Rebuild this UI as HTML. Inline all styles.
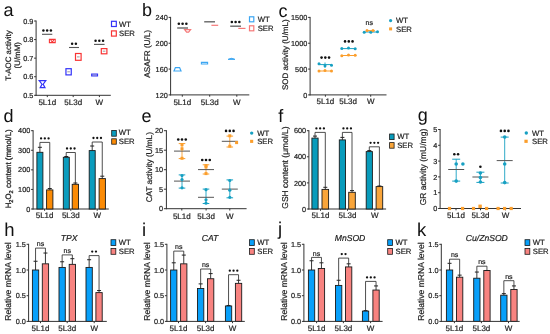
<!DOCTYPE html>
<html><head><meta charset="utf-8"><style>
html,body{margin:0;padding:0;background:#fff;width:550px;height:334px;overflow:hidden}
svg{display:block;font-family:"Liberation Sans", sans-serif;will-change:transform;text-rendering:geometricPrecision}
</style></head><body>
<svg width="550" height="334" viewBox="0 0 550 334">
<rect width="550" height="334" fill="#fff"/>
<text transform="translate(3.60,16.00)" text-anchor="start" fill="#111" style="font-size:18.00px;" >a</text>
<text transform="translate(141.90,16.20)" text-anchor="start" fill="#111" style="font-size:18.00px;" >b</text>
<text transform="translate(278.40,16.60)" text-anchor="start" fill="#111" style="font-size:18.00px;" >c</text>
<text transform="translate(3.60,121.70)" text-anchor="start" fill="#111" style="font-size:18.00px;" >d</text>
<text transform="translate(141.60,121.70)" text-anchor="start" fill="#111" style="font-size:18.00px;" >e</text>
<text transform="translate(278.20,121.70)" text-anchor="start" fill="#111" style="font-size:18.00px;" >f</text>
<text transform="translate(417.70,120.70)" text-anchor="start" fill="#111" style="font-size:18.00px;" >g</text>
<text transform="translate(4.20,235.60)" text-anchor="start" fill="#111" style="font-size:18.50px;" >h</text>
<text transform="translate(142.00,235.60)" text-anchor="start" fill="#111" style="font-size:18.50px;" >i</text>
<text transform="translate(277.90,235.30)" text-anchor="start" fill="#111" style="font-size:18.50px;" >j</text>
<text transform="translate(417.00,235.60)" text-anchor="start" fill="#111" style="font-size:18.50px;" >k</text>
<line x1="36.10" y1="20.50" x2="36.10" y2="95.80" stroke="#333" stroke-width="1"/>
<line x1="34.10" y1="21.00" x2="36.10" y2="21.00" stroke="#333" stroke-width="1"/>
<text transform="translate(33.30,23.60)" text-anchor="end" fill="#222" stroke="#222" stroke-width="0.2" style="font-size:7.30px;" >0.9</text>
<line x1="34.10" y1="39.57" x2="36.10" y2="39.57" stroke="#333" stroke-width="1"/>
<text transform="translate(33.30,42.17)" text-anchor="end" fill="#222" stroke="#222" stroke-width="0.2" style="font-size:7.30px;" >0.8</text>
<line x1="34.10" y1="58.15" x2="36.10" y2="58.15" stroke="#333" stroke-width="1"/>
<text transform="translate(33.30,60.75)" text-anchor="end" fill="#222" stroke="#222" stroke-width="0.2" style="font-size:7.30px;" >0.7</text>
<line x1="34.10" y1="76.72" x2="36.10" y2="76.72" stroke="#333" stroke-width="1"/>
<text transform="translate(33.30,79.32)" text-anchor="end" fill="#222" stroke="#222" stroke-width="0.2" style="font-size:7.30px;" >0.6</text>
<line x1="34.10" y1="95.30" x2="36.10" y2="95.30" stroke="#333" stroke-width="1"/>
<text transform="translate(33.30,97.90)" text-anchor="end" fill="#222" stroke="#222" stroke-width="0.2" style="font-size:7.30px;" >0.5</text>
<line x1="35.60" y1="95.30" x2="110.80" y2="95.30" stroke="#333" stroke-width="1"/>
<line x1="47.30" y1="95.30" x2="47.30" y2="97.10" stroke="#333" stroke-width="1"/>
<text transform="translate(47.30,105.30)" text-anchor="middle" fill="#222" stroke="#222" stroke-width="0.2" style="font-size:8.00px;" >5L1d</text>
<line x1="73.20" y1="95.30" x2="73.20" y2="97.10" stroke="#333" stroke-width="1"/>
<text transform="translate(73.20,105.30)" text-anchor="middle" fill="#222" stroke="#222" stroke-width="0.2" style="font-size:8.00px;" >5L3d</text>
<line x1="99.40" y1="95.30" x2="99.40" y2="97.10" stroke="#333" stroke-width="1"/>
<text transform="translate(99.40,105.30)" text-anchor="middle" fill="#222" stroke="#222" stroke-width="0.2" style="font-size:8.00px;" >W</text>
<text transform="translate(10.90,55.50) rotate(-90)" text-anchor="middle" fill="#222" stroke="#222" stroke-width="0.2" style="font-size:7.90px;" >T-AOC activity</text>
<text transform="translate(20.10,55.30) rotate(-90)" text-anchor="middle" fill="#222" stroke="#222" stroke-width="0.2" style="font-size:7.90px;" >(U/mM)</text>
<path d="M39.2,80.6 L45.8,80.6 L43.2,84.2 L45.0,87.6 L40.2,87.6 L42.0,84.2 Z" fill="none" stroke="#3232f8" stroke-width="1.2"/>
<rect x="65.95" y="68.70" width="5.30" height="6.20" fill="none" stroke="#3232f8" stroke-width="1.2"/>
<line x1="67.30" y1="71.80" x2="69.90" y2="71.80" stroke="#555" stroke-width="0.6"/>
<rect x="91.70" y="74.10" width="5.80" height="1.80" fill="none" stroke="#3232f8" stroke-width="1.2"/>
<line x1="92.30" y1="75.00" x2="96.90" y2="75.00" stroke="#aab" stroke-width="0.6"/>
<path d="M49.4,39.4 L55.2,39.4 L55.2,42.6 L49.4,42.6 Z M50.8,40.2 L52.3,42.0 L53.8,40.2" fill="none" stroke="#f83434" stroke-width="1.1"/>
<rect x="75.50" y="53.50" width="5.60" height="6.80" fill="none" stroke="#f83434" stroke-width="1.2"/>
<line x1="77.00" y1="56.90" x2="79.60" y2="56.90" stroke="#555" stroke-width="0.6"/>
<rect x="101.30" y="48.60" width="5.60" height="5.20" fill="none" stroke="#f83434" stroke-width="1.2"/>
<line x1="102.80" y1="51.20" x2="105.40" y2="51.20" stroke="#555" stroke-width="0.6"/>
<line x1="42.00" y1="34.30" x2="52.30" y2="34.30" stroke="#555" stroke-width="1.1"/>
<circle cx="43.40" cy="30.60" r="1.25" fill="#111"/>
<circle cx="47.15" cy="30.60" r="1.25" fill="#111"/>
<circle cx="50.90" cy="30.60" r="1.25" fill="#111"/>
<line x1="69.00" y1="47.50" x2="79.00" y2="47.50" stroke="#555" stroke-width="1.1"/>
<circle cx="72.12" cy="43.80" r="1.25" fill="#111"/>
<circle cx="75.88" cy="43.80" r="1.25" fill="#111"/>
<line x1="94.00" y1="44.40" x2="104.60" y2="44.40" stroke="#555" stroke-width="1.1"/>
<circle cx="95.55" cy="40.70" r="1.25" fill="#111"/>
<circle cx="99.30" cy="40.70" r="1.25" fill="#111"/>
<circle cx="103.05" cy="40.70" r="1.25" fill="#111"/>
<rect x="111.50" y="21.30" width="4.80" height="5.20" fill="none" stroke="#3232f8" stroke-width="1.2"/>
<text transform="translate(119.00,26.60)" text-anchor="start" fill="#222" stroke="#222" stroke-width="0.2" style="font-size:7.70px;" >WT</text>
<rect x="111.50" y="30.90" width="4.80" height="5.20" fill="none" stroke="#f83434" stroke-width="1.2"/>
<text transform="translate(119.00,36.30)" text-anchor="start" fill="#222" stroke="#222" stroke-width="0.2" style="font-size:7.70px;" >SER</text>
<line x1="170.60" y1="16.90" x2="170.60" y2="95.40" stroke="#333" stroke-width="1"/>
<line x1="168.60" y1="17.40" x2="170.60" y2="17.40" stroke="#333" stroke-width="1"/>
<text transform="translate(167.80,20.00)" text-anchor="end" fill="#222" stroke="#222" stroke-width="0.2" style="font-size:7.30px;" >240</text>
<line x1="168.60" y1="43.23" x2="170.60" y2="43.23" stroke="#333" stroke-width="1"/>
<text transform="translate(167.80,45.83)" text-anchor="end" fill="#222" stroke="#222" stroke-width="0.2" style="font-size:7.30px;" >200</text>
<line x1="168.60" y1="69.07" x2="170.60" y2="69.07" stroke="#333" stroke-width="1"/>
<text transform="translate(167.80,71.67)" text-anchor="end" fill="#222" stroke="#222" stroke-width="0.2" style="font-size:7.30px;" >160</text>
<line x1="168.60" y1="94.90" x2="170.60" y2="94.90" stroke="#333" stroke-width="1"/>
<text transform="translate(167.80,97.50)" text-anchor="end" fill="#222" stroke="#222" stroke-width="0.2" style="font-size:7.30px;" >120</text>
<line x1="170.10" y1="94.90" x2="249.30" y2="94.90" stroke="#333" stroke-width="1"/>
<line x1="182.30" y1="94.90" x2="182.30" y2="96.70" stroke="#333" stroke-width="1"/>
<text transform="translate(182.30,104.50)" text-anchor="middle" fill="#222" stroke="#222" stroke-width="0.2" style="font-size:8.00px;" >5L1d</text>
<line x1="209.70" y1="94.90" x2="209.70" y2="96.70" stroke="#333" stroke-width="1"/>
<text transform="translate(209.70,104.50)" text-anchor="middle" fill="#222" stroke="#222" stroke-width="0.2" style="font-size:8.00px;" >5L3d</text>
<line x1="236.80" y1="94.90" x2="236.80" y2="96.70" stroke="#333" stroke-width="1"/>
<text transform="translate(236.80,104.50)" text-anchor="middle" fill="#222" stroke="#222" stroke-width="0.2" style="font-size:8.00px;" >W</text>
<text transform="translate(150.00,53.80) rotate(-90)" text-anchor="middle" fill="#222" stroke="#222" stroke-width="0.2" style="font-size:8.20px;" >ASAFR (U/L)</text>
<path d="M175.4,67.6 L179.6,67.6 L181.0,71.0 L174.0,71.0 Z" fill="none" stroke="#3ca6f2" stroke-width="1.2"/>
<path d="M201.4,62.4 L207.6,62.4 L207.6,64.0 L201.4,64.0 Z" fill="none" stroke="#3ca6f2" stroke-width="1.1"/>
<path d="M228.0,59.4 Q231.5,57.2 235.0,59.4 Z" fill="#3ca6f2" stroke="#3ca6f2" stroke-width="0.9"/>
<path d="M184.6,29.6 L190.6,29.6 L188.6,32.2 L186.6,32.2 Z" fill="none" stroke="#f57878" stroke-width="1.2"/>
<line x1="211.40" y1="25.30" x2="218.20" y2="25.30" stroke="#f57878" stroke-width="1.2"/>
<line x1="238.30" y1="28.40" x2="245.50" y2="28.40" stroke="#f57878" stroke-width="1.2"/>
<line x1="177.20" y1="28.00" x2="188.00" y2="28.00" stroke="#666" stroke-width="1.4"/>
<circle cx="178.85" cy="23.80" r="1.3" fill="#111"/>
<circle cx="182.60" cy="23.80" r="1.3" fill="#111"/>
<circle cx="186.35" cy="23.80" r="1.3" fill="#111"/>
<line x1="204.20" y1="21.80" x2="215.00" y2="21.80" stroke="#666" stroke-width="1.4"/>
<line x1="230.20" y1="26.20" x2="241.00" y2="26.20" stroke="#666" stroke-width="1.4"/>
<circle cx="231.85" cy="22.00" r="1.3" fill="#111"/>
<circle cx="235.60" cy="22.00" r="1.3" fill="#111"/>
<circle cx="239.35" cy="22.00" r="1.3" fill="#111"/>
<rect x="249.50" y="16.80" width="4.30" height="5.00" fill="none" stroke="#3ca6f2" stroke-width="1.2"/>
<text transform="translate(257.70,21.90)" text-anchor="start" fill="#222" stroke="#222" stroke-width="0.2" style="font-size:7.70px;" >WT</text>
<rect x="249.50" y="25.80" width="4.30" height="5.00" fill="none" stroke="#f57878" stroke-width="1.2"/>
<text transform="translate(257.70,31.10)" text-anchor="start" fill="#222" stroke="#222" stroke-width="0.2" style="font-size:7.70px;" >SER</text>
<line x1="310.10" y1="16.90" x2="310.10" y2="95.40" stroke="#333" stroke-width="1"/>
<line x1="308.10" y1="17.40" x2="310.10" y2="17.40" stroke="#333" stroke-width="1"/>
<text transform="translate(307.30,20.00)" text-anchor="end" fill="#222" stroke="#222" stroke-width="0.2" style="font-size:7.30px;" >1500</text>
<line x1="308.10" y1="43.23" x2="310.10" y2="43.23" stroke="#333" stroke-width="1"/>
<text transform="translate(307.30,45.83)" text-anchor="end" fill="#222" stroke="#222" stroke-width="0.2" style="font-size:7.30px;" >1000</text>
<line x1="308.10" y1="69.07" x2="310.10" y2="69.07" stroke="#333" stroke-width="1"/>
<text transform="translate(307.30,71.67)" text-anchor="end" fill="#222" stroke="#222" stroke-width="0.2" style="font-size:7.30px;" >500</text>
<line x1="308.10" y1="94.90" x2="310.10" y2="94.90" stroke="#333" stroke-width="1"/>
<text transform="translate(307.30,97.50)" text-anchor="end" fill="#222" stroke="#222" stroke-width="0.2" style="font-size:7.30px;" >0</text>
<line x1="309.60" y1="94.90" x2="386.50" y2="94.90" stroke="#333" stroke-width="1"/>
<line x1="325.40" y1="94.90" x2="325.40" y2="96.70" stroke="#333" stroke-width="1"/>
<text transform="translate(325.40,104.30)" text-anchor="middle" fill="#222" stroke="#222" stroke-width="0.2" style="font-size:8.00px;" >5L1d</text>
<line x1="348.10" y1="94.90" x2="348.10" y2="96.70" stroke="#333" stroke-width="1"/>
<text transform="translate(348.10,104.30)" text-anchor="middle" fill="#222" stroke="#222" stroke-width="0.2" style="font-size:8.00px;" >5L3d</text>
<line x1="370.70" y1="94.90" x2="370.70" y2="96.70" stroke="#333" stroke-width="1"/>
<text transform="translate(370.70,104.30)" text-anchor="middle" fill="#222" stroke="#222" stroke-width="0.2" style="font-size:8.00px;" >W</text>
<text transform="translate(287.80,54.70) rotate(-90)" text-anchor="middle" fill="#222" stroke="#222" stroke-width="0.2" style="font-size:8.00px;" >SOD activity (U/mL)</text>
<line x1="318.50" y1="71.00" x2="331.50" y2="71.00" stroke="#fb9e2c" stroke-width="1.0"/>
<circle cx="319.00" cy="71.00" r="1.5" fill="#fb9e2c"/>
<circle cx="325.00" cy="70.50" r="1.5" fill="#fb9e2c"/>
<circle cx="331.50" cy="71.00" r="1.5" fill="#fb9e2c"/>
<line x1="318.50" y1="64.60" x2="331.50" y2="64.60" stroke="#17a0c2" stroke-width="1.0"/>
<circle cx="319.00" cy="63.80" r="1.5" fill="#17a0c2"/>
<circle cx="325.00" cy="65.80" r="1.5" fill="#17a0c2"/>
<circle cx="331.50" cy="65.20" r="1.5" fill="#17a0c2"/>
<line x1="325.00" y1="62.50" x2="325.00" y2="68.00" stroke="#17a0c2" stroke-width="0.9"/>
<line x1="342.00" y1="55.50" x2="355.00" y2="55.50" stroke="#fb9e2c" stroke-width="1.0"/>
<circle cx="341.80" cy="55.80" r="1.5" fill="#fb9e2c"/>
<circle cx="348.50" cy="55.00" r="1.5" fill="#fb9e2c"/>
<circle cx="355.20" cy="55.30" r="1.5" fill="#fb9e2c"/>
<line x1="342.00" y1="48.60" x2="355.00" y2="48.60" stroke="#17a0c2" stroke-width="1.0"/>
<circle cx="341.80" cy="48.60" r="1.5" fill="#17a0c2"/>
<circle cx="348.50" cy="48.00" r="1.5" fill="#17a0c2"/>
<circle cx="355.20" cy="48.80" r="1.5" fill="#17a0c2"/>
<line x1="364.30" y1="32.00" x2="377.30" y2="32.00" stroke="#17a0c2" stroke-width="1.0"/>
<circle cx="364.20" cy="32.20" r="1.5" fill="#17a0c2"/>
<circle cx="370.80" cy="32.30" r="1.5" fill="#17a0c2"/>
<circle cx="377.50" cy="31.80" r="1.5" fill="#17a0c2"/>
<line x1="366.80" y1="30.60" x2="374.80" y2="30.60" stroke="#fb9e2c" stroke-width="1.0"/>
<circle cx="367.00" cy="30.40" r="1.5" fill="#fb9e2c"/>
<circle cx="373.00" cy="30.40" r="1.5" fill="#fb9e2c"/>
<circle cx="321.55" cy="57.60" r="1.3" fill="#111"/>
<circle cx="325.30" cy="57.60" r="1.3" fill="#111"/>
<circle cx="329.05" cy="57.60" r="1.3" fill="#111"/>
<circle cx="345.05" cy="41.40" r="1.3" fill="#111"/>
<circle cx="348.80" cy="41.40" r="1.3" fill="#111"/>
<circle cx="352.55" cy="41.40" r="1.3" fill="#111"/>
<text transform="translate(369.30,24.70)" text-anchor="middle" fill="#222" stroke="#222" stroke-width="0.2" style="font-size:7.00px;" >ns</text>
<circle cx="390.60" cy="20.60" r="1.6" fill="#17a0c2"/>
<text transform="translate(396.00,22.90)" text-anchor="start" fill="#222" stroke="#222" stroke-width="0.2" style="font-size:7.70px;" >WT</text>
<rect x="389.10" y="27.40" width="3.00" height="3.00" fill="#fb9e2c" stroke="none" stroke-width="0.8"/>
<text transform="translate(396.00,31.60)" text-anchor="start" fill="#222" stroke="#222" stroke-width="0.2" style="font-size:7.70px;" >SER</text>
<line x1="33.10" y1="130.20" x2="33.10" y2="209.50" stroke="#333" stroke-width="1"/>
<line x1="31.10" y1="130.70" x2="33.10" y2="130.70" stroke="#333" stroke-width="1"/>
<text transform="translate(30.30,133.30)" text-anchor="end" fill="#222" stroke="#222" stroke-width="0.2" style="font-size:7.30px;" >400</text>
<line x1="31.10" y1="150.27" x2="33.10" y2="150.27" stroke="#333" stroke-width="1"/>
<text transform="translate(30.30,152.87)" text-anchor="end" fill="#222" stroke="#222" stroke-width="0.2" style="font-size:7.30px;" >300</text>
<line x1="31.10" y1="169.85" x2="33.10" y2="169.85" stroke="#333" stroke-width="1"/>
<text transform="translate(30.30,172.45)" text-anchor="end" fill="#222" stroke="#222" stroke-width="0.2" style="font-size:7.30px;" >200</text>
<line x1="31.10" y1="189.43" x2="33.10" y2="189.43" stroke="#333" stroke-width="1"/>
<text transform="translate(30.30,192.03)" text-anchor="end" fill="#222" stroke="#222" stroke-width="0.2" style="font-size:7.30px;" >100</text>
<line x1="31.10" y1="209.00" x2="33.10" y2="209.00" stroke="#333" stroke-width="1"/>
<text transform="translate(30.30,211.60)" text-anchor="end" fill="#222" stroke="#222" stroke-width="0.2" style="font-size:7.30px;" >0</text>
<line x1="32.60" y1="209.00" x2="108.80" y2="209.00" stroke="#333" stroke-width="1"/>
<line x1="44.60" y1="209.00" x2="44.60" y2="210.80" stroke="#333" stroke-width="1"/>
<text transform="translate(44.60,218.20)" text-anchor="middle" fill="#222" stroke="#222" stroke-width="0.2" style="font-size:8.00px;" >5L1d</text>
<line x1="70.80" y1="209.00" x2="70.80" y2="210.80" stroke="#333" stroke-width="1"/>
<text transform="translate(70.80,218.20)" text-anchor="middle" fill="#222" stroke="#222" stroke-width="0.2" style="font-size:8.00px;" >5L3d</text>
<line x1="97.20" y1="209.00" x2="97.20" y2="210.80" stroke="#333" stroke-width="1"/>
<text transform="translate(97.20,218.20)" text-anchor="middle" fill="#222" stroke="#222" stroke-width="0.2" style="font-size:8.00px;" >W</text>
<text transform="translate(11.25,168.8) rotate(-90)" text-anchor="middle" fill="#222" stroke="#222" stroke-width="0.3" style="font-size:7.85px">H<tspan dy="1.8" style="font-size:5.6px">2</tspan><tspan dy="-1.8">O</tspan><tspan dy="1.8" style="font-size:5.6px">2</tspan><tspan dy="-1.8"> content (mmol/L)</tspan></text>
<line x1="39.90" y1="147.30" x2="39.90" y2="152.30" stroke="#222" stroke-width="0.9"/>
<line x1="37.90" y1="147.30" x2="41.90" y2="147.30" stroke="#222" stroke-width="1.0"/>
<rect x="36.90" y="152.30" width="6.00" height="56.70" fill="#0b9cbd" stroke="#1a1a1a" stroke-width="0.9"/>
<line x1="49.75" y1="188.50" x2="49.75" y2="189.90" stroke="#222" stroke-width="0.9"/>
<line x1="47.75" y1="188.50" x2="51.75" y2="188.50" stroke="#222" stroke-width="1.0"/>
<rect x="46.60" y="189.90" width="6.30" height="19.10" fill="#fb8b06" stroke="#1a1a1a" stroke-width="0.9"/>
<line x1="66.30" y1="156.50" x2="66.30" y2="157.30" stroke="#222" stroke-width="0.9"/>
<line x1="64.30" y1="156.50" x2="68.30" y2="156.50" stroke="#222" stroke-width="1.0"/>
<rect x="63.30" y="157.30" width="6.00" height="51.70" fill="#0b9cbd" stroke="#1a1a1a" stroke-width="0.9"/>
<line x1="75.35" y1="183.00" x2="75.35" y2="184.30" stroke="#222" stroke-width="0.9"/>
<line x1="73.35" y1="183.00" x2="77.35" y2="183.00" stroke="#222" stroke-width="1.0"/>
<rect x="72.20" y="184.30" width="6.30" height="24.70" fill="#fb8b06" stroke="#1a1a1a" stroke-width="0.9"/>
<line x1="92.20" y1="146.00" x2="92.20" y2="150.60" stroke="#222" stroke-width="0.9"/>
<line x1="90.20" y1="146.00" x2="94.20" y2="146.00" stroke="#222" stroke-width="1.0"/>
<rect x="89.20" y="150.60" width="6.00" height="58.40" fill="#0b9cbd" stroke="#1a1a1a" stroke-width="0.9"/>
<line x1="102.25" y1="176.20" x2="102.25" y2="178.60" stroke="#222" stroke-width="0.9"/>
<line x1="100.25" y1="176.20" x2="104.25" y2="176.20" stroke="#222" stroke-width="1.0"/>
<rect x="99.10" y="178.60" width="6.30" height="30.40" fill="#fb8b06" stroke="#1a1a1a" stroke-width="0.9"/>
<polyline points="39.90,147.30 39.90,142.40 49.75,142.40 49.75,188.50" fill="none" stroke="#222" stroke-width="0.8"/>
<circle cx="41.08" cy="138.40" r="1.15" fill="#111"/>
<circle cx="44.83" cy="138.40" r="1.15" fill="#111"/>
<circle cx="48.58" cy="138.40" r="1.15" fill="#111"/>
<polyline points="66.20,156.50 66.20,152.50 75.35,152.50 75.35,183.00" fill="none" stroke="#222" stroke-width="0.8"/>
<circle cx="67.03" cy="148.50" r="1.15" fill="#111"/>
<circle cx="70.78" cy="148.50" r="1.15" fill="#111"/>
<circle cx="74.53" cy="148.50" r="1.15" fill="#111"/>
<polyline points="92.20,146.00 92.20,142.00 102.25,142.00 102.25,176.20" fill="none" stroke="#222" stroke-width="0.8"/>
<circle cx="93.47" cy="138.00" r="1.15" fill="#111"/>
<circle cx="97.22" cy="138.00" r="1.15" fill="#111"/>
<circle cx="100.97" cy="138.00" r="1.15" fill="#111"/>
<rect x="111.70" y="130.40" width="4.60" height="5.80" fill="#0b9cbd" stroke="#1a1a1a" stroke-width="0.8"/>
<text transform="translate(118.80,135.30)" text-anchor="start" fill="#222" stroke="#222" stroke-width="0.2" style="font-size:7.70px;" >WT</text>
<rect x="111.70" y="138.80" width="4.60" height="5.40" fill="#fb8b06" stroke="#1a1a1a" stroke-width="0.8"/>
<text transform="translate(118.80,143.70)" text-anchor="start" fill="#222" stroke="#222" stroke-width="0.2" style="font-size:7.70px;" >SER</text>
<line x1="166.40" y1="130.20" x2="166.40" y2="209.20" stroke="#333" stroke-width="1"/>
<line x1="163.90" y1="130.70" x2="166.40" y2="130.70" stroke="#333" stroke-width="1"/>
<text transform="translate(163.10,133.30)" text-anchor="end" fill="#222" stroke="#222" stroke-width="0.2" style="font-size:7.30px;" >20</text>
<line x1="163.90" y1="150.20" x2="166.40" y2="150.20" stroke="#333" stroke-width="1"/>
<text transform="translate(163.10,152.80)" text-anchor="end" fill="#222" stroke="#222" stroke-width="0.2" style="font-size:7.30px;" >15</text>
<line x1="163.90" y1="169.70" x2="166.40" y2="169.70" stroke="#333" stroke-width="1"/>
<text transform="translate(163.10,172.30)" text-anchor="end" fill="#222" stroke="#222" stroke-width="0.2" style="font-size:7.30px;" >10</text>
<line x1="163.90" y1="189.20" x2="166.40" y2="189.20" stroke="#333" stroke-width="1"/>
<text transform="translate(163.10,191.80)" text-anchor="end" fill="#222" stroke="#222" stroke-width="0.2" style="font-size:7.30px;" >5</text>
<line x1="163.90" y1="208.70" x2="166.40" y2="208.70" stroke="#333" stroke-width="1"/>
<text transform="translate(163.10,211.30)" text-anchor="end" fill="#222" stroke="#222" stroke-width="0.2" style="font-size:7.30px;" >0</text>
<line x1="165.90" y1="208.70" x2="246.60" y2="208.70" stroke="#333" stroke-width="1"/>
<line x1="181.80" y1="208.70" x2="181.80" y2="210.50" stroke="#333" stroke-width="1"/>
<text transform="translate(181.80,218.50)" text-anchor="middle" fill="#222" stroke="#222" stroke-width="0.2" style="font-size:8.00px;" >5L1d</text>
<line x1="206.10" y1="208.70" x2="206.10" y2="210.50" stroke="#333" stroke-width="1"/>
<text transform="translate(206.10,218.50)" text-anchor="middle" fill="#222" stroke="#222" stroke-width="0.2" style="font-size:8.00px;" >5L3d</text>
<line x1="229.80" y1="208.70" x2="229.80" y2="210.50" stroke="#333" stroke-width="1"/>
<text transform="translate(229.80,218.50)" text-anchor="middle" fill="#222" stroke="#222" stroke-width="0.2" style="font-size:8.00px;" >W</text>
<text transform="translate(151.80,167.20) rotate(-90)" text-anchor="middle" fill="#222" stroke="#222" stroke-width="0.2" style="font-size:8.20px;" >CAT activity (U/mL)</text>
<line x1="182.00" y1="143.60" x2="182.00" y2="158.60" stroke="#fb9e2c" stroke-width="0.9"/>
<line x1="178.70" y1="143.60" x2="185.30" y2="143.60" stroke="#fb9e2c" stroke-width="1.0"/>
<line x1="178.70" y1="158.60" x2="185.30" y2="158.60" stroke="#fb9e2c" stroke-width="1.0"/>
<line x1="174.00" y1="151.10" x2="190.00" y2="151.10" stroke="#555" stroke-width="1.0"/>
<rect x="180.50" y="143.30" width="3.00" height="3.00" fill="#fb9e2c" stroke="none" stroke-width="0.8"/>
<rect x="180.50" y="147.30" width="3.00" height="3.00" fill="#fb9e2c" stroke="none" stroke-width="0.8"/>
<rect x="180.50" y="156.80" width="3.00" height="3.00" fill="#fb9e2c" stroke="none" stroke-width="0.8"/>
<line x1="182.00" y1="174.90" x2="182.00" y2="188.10" stroke="#17a0c2" stroke-width="0.9"/>
<line x1="178.70" y1="174.90" x2="185.30" y2="174.90" stroke="#17a0c2" stroke-width="1.0"/>
<line x1="178.70" y1="188.10" x2="185.30" y2="188.10" stroke="#17a0c2" stroke-width="1.0"/>
<line x1="174.00" y1="181.10" x2="190.00" y2="181.10" stroke="#555" stroke-width="1.0"/>
<circle cx="182.00" cy="175.60" r="1.6" fill="#17a0c2"/>
<circle cx="182.00" cy="179.50" r="1.6" fill="#17a0c2"/>
<circle cx="182.00" cy="187.80" r="1.6" fill="#17a0c2"/>
<line x1="206.00" y1="164.80" x2="206.00" y2="174.00" stroke="#fb9e2c" stroke-width="0.9"/>
<line x1="202.70" y1="164.80" x2="209.30" y2="164.80" stroke="#fb9e2c" stroke-width="1.0"/>
<line x1="202.70" y1="174.00" x2="209.30" y2="174.00" stroke="#fb9e2c" stroke-width="1.0"/>
<line x1="198.00" y1="169.60" x2="214.00" y2="169.60" stroke="#555" stroke-width="1.0"/>
<rect x="204.50" y="164.10" width="3.00" height="3.00" fill="#fb9e2c" stroke="none" stroke-width="0.8"/>
<rect x="204.50" y="165.50" width="3.00" height="3.00" fill="#fb9e2c" stroke="none" stroke-width="0.8"/>
<rect x="204.50" y="172.10" width="3.00" height="3.00" fill="#fb9e2c" stroke="none" stroke-width="0.8"/>
<line x1="206.00" y1="189.10" x2="206.00" y2="203.50" stroke="#17a0c2" stroke-width="0.9"/>
<line x1="202.70" y1="189.10" x2="209.30" y2="189.10" stroke="#17a0c2" stroke-width="1.0"/>
<line x1="202.70" y1="203.50" x2="209.30" y2="203.50" stroke="#17a0c2" stroke-width="1.0"/>
<line x1="198.00" y1="197.30" x2="214.00" y2="197.30" stroke="#555" stroke-width="1.0"/>
<circle cx="206.00" cy="189.70" r="1.6" fill="#17a0c2"/>
<circle cx="206.00" cy="199.80" r="1.6" fill="#17a0c2"/>
<circle cx="206.00" cy="203.20" r="1.6" fill="#17a0c2"/>
<line x1="229.80" y1="136.10" x2="229.80" y2="147.00" stroke="#fb9e2c" stroke-width="0.9"/>
<line x1="226.50" y1="136.10" x2="233.10" y2="136.10" stroke="#fb9e2c" stroke-width="1.0"/>
<line x1="226.50" y1="147.00" x2="233.10" y2="147.00" stroke="#fb9e2c" stroke-width="1.0"/>
<line x1="221.80" y1="141.30" x2="237.80" y2="141.30" stroke="#555" stroke-width="1.0"/>
<rect x="228.30" y="134.30" width="3.00" height="3.00" fill="#fb9e2c" stroke="none" stroke-width="0.8"/>
<rect x="235.10" y="141.10" width="3.00" height="3.00" fill="#fb9e2c" stroke="none" stroke-width="0.8"/>
<rect x="228.30" y="144.70" width="3.00" height="3.00" fill="#fb9e2c" stroke="none" stroke-width="0.8"/>
<line x1="229.80" y1="179.90" x2="229.80" y2="197.80" stroke="#17a0c2" stroke-width="0.9"/>
<line x1="226.50" y1="179.90" x2="233.10" y2="179.90" stroke="#17a0c2" stroke-width="1.0"/>
<line x1="226.50" y1="197.80" x2="233.10" y2="197.80" stroke="#17a0c2" stroke-width="1.0"/>
<line x1="221.80" y1="189.10" x2="237.80" y2="189.10" stroke="#555" stroke-width="1.0"/>
<circle cx="229.80" cy="180.50" r="1.6" fill="#17a0c2"/>
<circle cx="229.80" cy="190.20" r="1.6" fill="#17a0c2"/>
<circle cx="229.80" cy="197.30" r="1.6" fill="#17a0c2"/>
<circle cx="178.25" cy="139.50" r="1.3" fill="#111"/>
<circle cx="182.00" cy="139.50" r="1.3" fill="#111"/>
<circle cx="185.75" cy="139.50" r="1.3" fill="#111"/>
<circle cx="202.25" cy="160.00" r="1.3" fill="#111"/>
<circle cx="206.00" cy="160.00" r="1.3" fill="#111"/>
<circle cx="209.75" cy="160.00" r="1.3" fill="#111"/>
<circle cx="226.05" cy="130.90" r="1.3" fill="#111"/>
<circle cx="229.80" cy="130.90" r="1.3" fill="#111"/>
<circle cx="233.55" cy="130.90" r="1.3" fill="#111"/>
<circle cx="251.70" cy="133.10" r="1.7" fill="#17a0c2"/>
<text transform="translate(257.20,135.80)" text-anchor="start" fill="#222" stroke="#222" stroke-width="0.2" style="font-size:7.70px;" >WT</text>
<rect x="250.10" y="139.80" width="3.10" height="3.10" fill="#fb9e2c" stroke="none" stroke-width="0.8"/>
<text transform="translate(257.20,143.90)" text-anchor="start" fill="#222" stroke="#222" stroke-width="0.2" style="font-size:7.70px;" >SER</text>
<line x1="308.90" y1="130.20" x2="308.90" y2="209.50" stroke="#333" stroke-width="1"/>
<line x1="306.90" y1="130.70" x2="308.90" y2="130.70" stroke="#333" stroke-width="1"/>
<text transform="translate(306.10,133.30)" text-anchor="end" fill="#222" stroke="#222" stroke-width="0.2" style="font-size:7.30px;" >600</text>
<line x1="306.90" y1="156.80" x2="308.90" y2="156.80" stroke="#333" stroke-width="1"/>
<text transform="translate(306.10,159.40)" text-anchor="end" fill="#222" stroke="#222" stroke-width="0.2" style="font-size:7.30px;" >400</text>
<line x1="306.90" y1="182.90" x2="308.90" y2="182.90" stroke="#333" stroke-width="1"/>
<text transform="translate(306.10,185.50)" text-anchor="end" fill="#222" stroke="#222" stroke-width="0.2" style="font-size:7.30px;" >200</text>
<line x1="306.90" y1="209.00" x2="308.90" y2="209.00" stroke="#333" stroke-width="1"/>
<text transform="translate(306.10,211.60)" text-anchor="end" fill="#222" stroke="#222" stroke-width="0.2" style="font-size:7.30px;" >0</text>
<line x1="308.40" y1="209.00" x2="386.10" y2="209.00" stroke="#333" stroke-width="1"/>
<line x1="320.50" y1="209.00" x2="320.50" y2="210.80" stroke="#333" stroke-width="1"/>
<text transform="translate(320.50,218.20)" text-anchor="middle" fill="#222" stroke="#222" stroke-width="0.2" style="font-size:8.00px;" >5L1d</text>
<line x1="347.50" y1="209.00" x2="347.50" y2="210.80" stroke="#333" stroke-width="1"/>
<text transform="translate(347.50,218.20)" text-anchor="middle" fill="#222" stroke="#222" stroke-width="0.2" style="font-size:8.00px;" >5L3d</text>
<line x1="374.90" y1="209.00" x2="374.90" y2="210.80" stroke="#333" stroke-width="1"/>
<text transform="translate(374.90,218.20)" text-anchor="middle" fill="#222" stroke="#222" stroke-width="0.2" style="font-size:8.00px;" >W</text>
<text transform="translate(288.20,167.50) rotate(-90)" text-anchor="middle" fill="#222" stroke="#222" stroke-width="0.2" style="font-size:8.50px;" >GSH content (μmol/L)</text>
<line x1="315.00" y1="136.10" x2="315.00" y2="138.10" stroke="#222" stroke-width="0.9"/>
<line x1="313.00" y1="136.10" x2="317.00" y2="136.10" stroke="#222" stroke-width="1.0"/>
<rect x="311.90" y="138.10" width="6.20" height="70.90" fill="#089bbb" stroke="#1a1a1a" stroke-width="0.9"/>
<line x1="325.30" y1="187.30" x2="325.30" y2="189.40" stroke="#222" stroke-width="0.9"/>
<line x1="323.30" y1="187.30" x2="327.30" y2="187.30" stroke="#222" stroke-width="1.0"/>
<rect x="322.00" y="189.40" width="6.60" height="19.60" fill="#f9a53a" stroke="#1a1a1a" stroke-width="0.9"/>
<line x1="342.40" y1="137.40" x2="342.40" y2="139.90" stroke="#222" stroke-width="0.9"/>
<line x1="340.40" y1="137.40" x2="344.40" y2="137.40" stroke="#222" stroke-width="1.0"/>
<rect x="339.30" y="139.90" width="6.20" height="69.10" fill="#089bbb" stroke="#1a1a1a" stroke-width="0.9"/>
<line x1="352.00" y1="190.60" x2="352.00" y2="192.30" stroke="#222" stroke-width="0.9"/>
<line x1="350.00" y1="190.60" x2="354.00" y2="190.60" stroke="#222" stroke-width="1.0"/>
<rect x="348.70" y="192.30" width="6.60" height="16.70" fill="#f9a53a" stroke="#1a1a1a" stroke-width="0.9"/>
<line x1="369.30" y1="150.60" x2="369.30" y2="151.60" stroke="#222" stroke-width="0.9"/>
<line x1="367.30" y1="150.60" x2="371.30" y2="150.60" stroke="#222" stroke-width="1.0"/>
<rect x="366.20" y="151.60" width="6.20" height="57.40" fill="#089bbb" stroke="#1a1a1a" stroke-width="0.9"/>
<line x1="379.40" y1="186.00" x2="379.40" y2="186.60" stroke="#222" stroke-width="0.9"/>
<line x1="377.40" y1="186.00" x2="381.40" y2="186.00" stroke="#222" stroke-width="1.0"/>
<rect x="376.10" y="186.60" width="6.60" height="22.40" fill="#f9a53a" stroke="#1a1a1a" stroke-width="0.9"/>
<polyline points="315.00,136.10 315.00,132.40 325.30,132.40 325.30,187.30" fill="none" stroke="#222" stroke-width="0.8"/>
<circle cx="316.40" cy="128.40" r="1.15" fill="#111"/>
<circle cx="320.15" cy="128.40" r="1.15" fill="#111"/>
<circle cx="323.90" cy="128.40" r="1.15" fill="#111"/>
<polyline points="342.40,137.40 342.40,132.40 352.00,132.40 352.00,190.60" fill="none" stroke="#222" stroke-width="0.8"/>
<circle cx="343.45" cy="128.40" r="1.15" fill="#111"/>
<circle cx="347.20" cy="128.40" r="1.15" fill="#111"/>
<circle cx="350.95" cy="128.40" r="1.15" fill="#111"/>
<polyline points="369.30,150.60 369.30,146.80 379.40,146.80 379.40,186.00" fill="none" stroke="#222" stroke-width="0.8"/>
<circle cx="370.60" cy="142.80" r="1.15" fill="#111"/>
<circle cx="374.35" cy="142.80" r="1.15" fill="#111"/>
<circle cx="378.10" cy="142.80" r="1.15" fill="#111"/>
<rect x="389.60" y="134.00" width="4.50" height="5.60" fill="#089bbb" stroke="#1a1a1a" stroke-width="0.8"/>
<text transform="translate(397.20,139.30)" text-anchor="start" fill="#222" stroke="#222" stroke-width="0.2" style="font-size:7.70px;" >WT</text>
<rect x="389.60" y="142.60" width="4.50" height="5.60" fill="#f9a53a" stroke="#1a1a1a" stroke-width="0.8"/>
<text transform="translate(397.20,148.10)" text-anchor="start" fill="#222" stroke="#222" stroke-width="0.2" style="font-size:7.70px;" >SER</text>
<line x1="440.10" y1="129.00" x2="440.10" y2="209.00" stroke="#333" stroke-width="1"/>
<line x1="438.10" y1="129.50" x2="440.10" y2="129.50" stroke="#333" stroke-width="1"/>
<text transform="translate(437.30,132.10)" text-anchor="end" fill="#222" stroke="#222" stroke-width="0.2" style="font-size:7.30px;" >5</text>
<line x1="438.10" y1="145.30" x2="440.10" y2="145.30" stroke="#333" stroke-width="1"/>
<text transform="translate(437.30,147.90)" text-anchor="end" fill="#222" stroke="#222" stroke-width="0.2" style="font-size:7.30px;" >4</text>
<line x1="438.10" y1="161.10" x2="440.10" y2="161.10" stroke="#333" stroke-width="1"/>
<text transform="translate(437.30,163.70)" text-anchor="end" fill="#222" stroke="#222" stroke-width="0.2" style="font-size:7.30px;" >3</text>
<line x1="438.10" y1="176.90" x2="440.10" y2="176.90" stroke="#333" stroke-width="1"/>
<text transform="translate(437.30,179.50)" text-anchor="end" fill="#222" stroke="#222" stroke-width="0.2" style="font-size:7.30px;" >2</text>
<line x1="438.10" y1="192.70" x2="440.10" y2="192.70" stroke="#333" stroke-width="1"/>
<text transform="translate(437.30,195.30)" text-anchor="end" fill="#222" stroke="#222" stroke-width="0.2" style="font-size:7.30px;" >1</text>
<line x1="438.10" y1="208.50" x2="440.10" y2="208.50" stroke="#333" stroke-width="1"/>
<text transform="translate(437.30,211.10)" text-anchor="end" fill="#222" stroke="#222" stroke-width="0.2" style="font-size:7.30px;" >0</text>
<line x1="439.60" y1="208.50" x2="521.00" y2="208.50" stroke="#333" stroke-width="1"/>
<line x1="456.00" y1="208.50" x2="456.00" y2="210.30" stroke="#333" stroke-width="1"/>
<text transform="translate(456.00,217.80)" text-anchor="middle" fill="#222" stroke="#222" stroke-width="0.2" style="font-size:8.00px;" >5L1d</text>
<line x1="480.50" y1="208.50" x2="480.50" y2="210.30" stroke="#333" stroke-width="1"/>
<text transform="translate(480.50,217.80)" text-anchor="middle" fill="#222" stroke="#222" stroke-width="0.2" style="font-size:8.00px;" >5L3d</text>
<line x1="505.50" y1="208.50" x2="505.50" y2="210.30" stroke="#333" stroke-width="1"/>
<text transform="translate(505.50,217.80)" text-anchor="middle" fill="#222" stroke="#222" stroke-width="0.2" style="font-size:8.00px;" >W</text>
<text transform="translate(425.80,167.00) rotate(-90)" text-anchor="middle" fill="#222" stroke="#222" stroke-width="0.2" style="font-size:8.50px;" >GR activity (mU/mg)</text>
<line x1="456.20" y1="159.20" x2="456.20" y2="181.10" stroke="#17a0c2" stroke-width="0.9"/>
<line x1="452.20" y1="159.20" x2="460.20" y2="159.20" stroke="#17a0c2" stroke-width="1.0"/>
<line x1="452.20" y1="181.10" x2="460.20" y2="181.10" stroke="#17a0c2" stroke-width="1.0"/>
<line x1="448.20" y1="169.50" x2="464.20" y2="169.50" stroke="#555" stroke-width="1.0"/>
<circle cx="456.20" cy="164.00" r="1.8" fill="#17a0c2"/>
<circle cx="462.90" cy="164.00" r="1.8" fill="#17a0c2"/>
<circle cx="456.20" cy="181.10" r="1.8" fill="#17a0c2"/>
<line x1="480.40" y1="172.20" x2="480.40" y2="182.40" stroke="#17a0c2" stroke-width="0.9"/>
<line x1="476.40" y1="172.20" x2="484.40" y2="172.20" stroke="#17a0c2" stroke-width="1.0"/>
<line x1="476.40" y1="182.40" x2="484.40" y2="182.40" stroke="#17a0c2" stroke-width="1.0"/>
<line x1="472.40" y1="177.00" x2="488.40" y2="177.00" stroke="#555" stroke-width="1.0"/>
<circle cx="480.40" cy="173.00" r="1.8" fill="#17a0c2"/>
<circle cx="480.40" cy="177.60" r="1.8" fill="#17a0c2"/>
<circle cx="480.40" cy="182.00" r="1.8" fill="#17a0c2"/>
<line x1="504.70" y1="137.10" x2="504.70" y2="183.00" stroke="#17a0c2" stroke-width="0.9"/>
<line x1="500.70" y1="137.10" x2="508.70" y2="137.10" stroke="#17a0c2" stroke-width="1.0"/>
<line x1="500.70" y1="183.00" x2="508.70" y2="183.00" stroke="#17a0c2" stroke-width="1.0"/>
<line x1="496.70" y1="160.60" x2="512.70" y2="160.60" stroke="#555" stroke-width="1.0"/>
<circle cx="504.70" cy="137.10" r="1.8" fill="#17a0c2"/>
<circle cx="504.70" cy="164.00" r="1.8" fill="#17a0c2"/>
<circle cx="504.70" cy="182.60" r="1.8" fill="#17a0c2"/>
<rect x="447.90" y="206.90" width="3.20" height="3.20" fill="#fb9e2c" stroke="none" stroke-width="0.8"/>
<rect x="461.00" y="206.90" width="3.20" height="3.20" fill="#fb9e2c" stroke="none" stroke-width="0.8"/>
<rect x="471.90" y="206.90" width="3.20" height="3.20" fill="#fb9e2c" stroke="none" stroke-width="0.8"/>
<rect x="485.00" y="206.90" width="3.20" height="3.20" fill="#fb9e2c" stroke="none" stroke-width="0.8"/>
<rect x="496.50" y="206.90" width="3.20" height="3.20" fill="#fb9e2c" stroke="none" stroke-width="0.8"/>
<rect x="503.00" y="206.90" width="3.20" height="3.20" fill="#fb9e2c" stroke="none" stroke-width="0.8"/>
<rect x="509.60" y="206.90" width="3.20" height="3.20" fill="#fb9e2c" stroke="none" stroke-width="0.8"/>
<rect x="478.40" y="204.60" width="3.40" height="3.40" fill="#fb9e2c" stroke="none" stroke-width="0.8"/>
<circle cx="454.32" cy="154.20" r="1.3" fill="#111"/>
<circle cx="458.07" cy="154.20" r="1.3" fill="#111"/>
<circle cx="480.40" cy="166.80" r="1.3" fill="#111"/>
<circle cx="500.95" cy="130.90" r="1.3" fill="#111"/>
<circle cx="504.70" cy="130.90" r="1.3" fill="#111"/>
<circle cx="508.45" cy="130.90" r="1.3" fill="#111"/>
<circle cx="526.30" cy="133.00" r="1.7" fill="#17a0c2"/>
<text transform="translate(532.00,135.80)" text-anchor="start" fill="#222" stroke="#222" stroke-width="0.2" style="font-size:7.70px;" >WT</text>
<rect x="524.40" y="139.70" width="3.30" height="3.20" fill="#fb9e2c" stroke="none" stroke-width="0.8"/>
<text transform="translate(532.00,143.80)" text-anchor="start" fill="#222" stroke="#222" stroke-width="0.2" style="font-size:7.70px;" >SER</text>
<line x1="28.60" y1="243.80" x2="28.60" y2="321.90" stroke="#333" stroke-width="1"/>
<line x1="26.60" y1="244.30" x2="28.60" y2="244.30" stroke="#333" stroke-width="1"/>
<text transform="translate(25.80,246.90)" text-anchor="end" fill="#222" stroke="#222" stroke-width="0.2" style="font-size:7.30px;" >1.5</text>
<line x1="26.60" y1="270.00" x2="28.60" y2="270.00" stroke="#333" stroke-width="1"/>
<text transform="translate(25.80,272.60)" text-anchor="end" fill="#222" stroke="#222" stroke-width="0.2" style="font-size:7.30px;" >1.0</text>
<line x1="26.60" y1="295.70" x2="28.60" y2="295.70" stroke="#333" stroke-width="1"/>
<text transform="translate(25.80,298.30)" text-anchor="end" fill="#222" stroke="#222" stroke-width="0.2" style="font-size:7.30px;" >0.5</text>
<line x1="26.60" y1="321.40" x2="28.60" y2="321.40" stroke="#333" stroke-width="1"/>
<text transform="translate(25.80,324.00)" text-anchor="end" fill="#222" stroke="#222" stroke-width="0.2" style="font-size:7.30px;" >0.0</text>
<line x1="35.55" y1="261.26" x2="35.55" y2="270.00" stroke="#222" stroke-width="0.9"/>
<line x1="33.55" y1="261.26" x2="37.55" y2="261.26" stroke="#222" stroke-width="1.0"/>
<rect x="32.40" y="270.00" width="6.30" height="51.40" fill="#08a0fa" stroke="#1a1a1a" stroke-width="0.9"/>
<line x1="45.45" y1="253.04" x2="45.45" y2="263.83" stroke="#222" stroke-width="0.9"/>
<line x1="43.45" y1="253.04" x2="47.45" y2="253.04" stroke="#222" stroke-width="1.0"/>
<rect x="42.30" y="263.83" width="6.30" height="57.57" fill="#f88380" stroke="#1a1a1a" stroke-width="0.9"/>
<line x1="62.15" y1="261.78" x2="62.15" y2="267.43" stroke="#222" stroke-width="0.9"/>
<line x1="60.15" y1="261.78" x2="64.15" y2="261.78" stroke="#222" stroke-width="1.0"/>
<rect x="59.00" y="267.43" width="6.30" height="53.97" fill="#08a0fa" stroke="#1a1a1a" stroke-width="0.9"/>
<line x1="72.35" y1="258.69" x2="72.35" y2="264.35" stroke="#222" stroke-width="0.9"/>
<line x1="70.35" y1="258.69" x2="74.35" y2="258.69" stroke="#222" stroke-width="1.0"/>
<rect x="69.20" y="264.35" width="6.30" height="57.05" fill="#f88380" stroke="#1a1a1a" stroke-width="0.9"/>
<line x1="89.15" y1="259.72" x2="89.15" y2="267.43" stroke="#222" stroke-width="0.9"/>
<line x1="87.15" y1="259.72" x2="91.15" y2="259.72" stroke="#222" stroke-width="1.0"/>
<rect x="86.00" y="267.43" width="6.30" height="53.97" fill="#08a0fa" stroke="#1a1a1a" stroke-width="0.9"/>
<line x1="99.05" y1="290.56" x2="99.05" y2="292.62" stroke="#222" stroke-width="0.9"/>
<line x1="97.05" y1="290.56" x2="101.05" y2="290.56" stroke="#222" stroke-width="1.0"/>
<rect x="95.90" y="292.62" width="6.30" height="28.78" fill="#f88380" stroke="#1a1a1a" stroke-width="0.9"/>
<line x1="28.10" y1="321.40" x2="106.80" y2="321.40" stroke="#333" stroke-width="1"/>
<line x1="40.50" y1="321.40" x2="40.50" y2="323.20" stroke="#333" stroke-width="1"/>
<text transform="translate(40.50,330.90)" text-anchor="middle" fill="#222" stroke="#222" stroke-width="0.2" style="font-size:8.00px;" >5L1d</text>
<line x1="67.20" y1="321.40" x2="67.20" y2="323.20" stroke="#333" stroke-width="1"/>
<text transform="translate(67.20,330.90)" text-anchor="middle" fill="#222" stroke="#222" stroke-width="0.2" style="font-size:8.00px;" >5L3d</text>
<line x1="94.20" y1="321.40" x2="94.20" y2="323.20" stroke="#333" stroke-width="1"/>
<text transform="translate(94.20,330.90)" text-anchor="middle" fill="#222" stroke="#222" stroke-width="0.2" style="font-size:8.00px;" >W</text>
<text transform="translate(11.40,281.60) rotate(-90)" text-anchor="middle" fill="#222" stroke="#222" stroke-width="0.2" style="font-size:8.60px;" >Relative mRNA level</text>
<text transform="translate(69.20,241.30)" text-anchor="middle" fill="#222" stroke="#222" stroke-width="0.2" style="font-size:8.60px;font-style:italic" >TPX</text>
<polyline points="35.55,261.26 35.55,248.10 45.45,248.10 45.45,253.04" fill="none" stroke="#222" stroke-width="0.8"/>
<text transform="translate(40.50,246.30)" text-anchor="middle" fill="#222" stroke="#222" stroke-width="0.2" style="font-size:7.00px;" >ns</text>
<polyline points="62.15,261.78 62.15,254.90 72.35,254.90 72.35,258.69" fill="none" stroke="#222" stroke-width="0.8"/>
<text transform="translate(67.25,253.10)" text-anchor="middle" fill="#222" stroke="#222" stroke-width="0.2" style="font-size:7.00px;" >ns</text>
<polyline points="89.15,259.72 89.15,255.60 99.05,255.60 99.05,290.56" fill="none" stroke="#222" stroke-width="0.8"/>
<circle cx="92.23" cy="251.60" r="1.15" fill="#111"/>
<circle cx="95.98" cy="251.60" r="1.15" fill="#111"/>
<rect x="111.00" y="239.70" width="4.80" height="5.90" fill="#08a0fa" stroke="#1a1a1a" stroke-width="0.8"/>
<text transform="translate(118.80,244.80)" text-anchor="start" fill="#222" stroke="#222" stroke-width="0.2" style="font-size:7.70px;" >WT</text>
<rect x="111.00" y="248.40" width="4.80" height="5.90" fill="#f88380" stroke="#1a1a1a" stroke-width="0.8"/>
<text transform="translate(118.80,253.70)" text-anchor="start" fill="#222" stroke="#222" stroke-width="0.2" style="font-size:7.70px;" >SER</text>
<line x1="166.90" y1="243.80" x2="166.90" y2="321.90" stroke="#333" stroke-width="1"/>
<line x1="164.90" y1="244.30" x2="166.90" y2="244.30" stroke="#333" stroke-width="1"/>
<text transform="translate(164.10,246.90)" text-anchor="end" fill="#222" stroke="#222" stroke-width="0.2" style="font-size:7.30px;" >1.5</text>
<line x1="164.90" y1="270.00" x2="166.90" y2="270.00" stroke="#333" stroke-width="1"/>
<text transform="translate(164.10,272.60)" text-anchor="end" fill="#222" stroke="#222" stroke-width="0.2" style="font-size:7.30px;" >1.0</text>
<line x1="164.90" y1="295.70" x2="166.90" y2="295.70" stroke="#333" stroke-width="1"/>
<text transform="translate(164.10,298.30)" text-anchor="end" fill="#222" stroke="#222" stroke-width="0.2" style="font-size:7.30px;" >0.5</text>
<line x1="164.90" y1="321.40" x2="166.90" y2="321.40" stroke="#333" stroke-width="1"/>
<text transform="translate(164.10,324.00)" text-anchor="end" fill="#222" stroke="#222" stroke-width="0.2" style="font-size:7.30px;" >0.0</text>
<line x1="173.75" y1="262.80" x2="173.75" y2="270.00" stroke="#222" stroke-width="0.9"/>
<line x1="171.75" y1="262.80" x2="175.75" y2="262.80" stroke="#222" stroke-width="1.0"/>
<rect x="170.60" y="270.00" width="6.30" height="51.40" fill="#08a0fa" stroke="#1a1a1a" stroke-width="0.9"/>
<line x1="183.75" y1="255.09" x2="183.75" y2="263.83" stroke="#222" stroke-width="0.9"/>
<line x1="181.75" y1="255.09" x2="185.75" y2="255.09" stroke="#222" stroke-width="1.0"/>
<rect x="180.60" y="263.83" width="6.30" height="57.57" fill="#f88380" stroke="#1a1a1a" stroke-width="0.9"/>
<line x1="200.65" y1="283.88" x2="200.65" y2="288.50" stroke="#222" stroke-width="0.9"/>
<line x1="198.65" y1="283.88" x2="202.65" y2="283.88" stroke="#222" stroke-width="1.0"/>
<rect x="197.50" y="288.50" width="6.30" height="32.90" fill="#08a0fa" stroke="#1a1a1a" stroke-width="0.9"/>
<line x1="210.65" y1="273.60" x2="210.65" y2="278.74" stroke="#222" stroke-width="0.9"/>
<line x1="208.65" y1="273.60" x2="212.65" y2="273.60" stroke="#222" stroke-width="1.0"/>
<rect x="207.50" y="278.74" width="6.30" height="42.66" fill="#f88380" stroke="#1a1a1a" stroke-width="0.9"/>
<line x1="228.55" y1="305.47" x2="228.55" y2="305.98" stroke="#222" stroke-width="0.9"/>
<line x1="226.55" y1="305.47" x2="230.55" y2="305.47" stroke="#222" stroke-width="1.0"/>
<rect x="225.40" y="305.98" width="6.30" height="15.42" fill="#08a0fa" stroke="#1a1a1a" stroke-width="0.9"/>
<line x1="238.55" y1="280.28" x2="238.55" y2="283.36" stroke="#222" stroke-width="0.9"/>
<line x1="236.55" y1="280.28" x2="240.55" y2="280.28" stroke="#222" stroke-width="1.0"/>
<rect x="235.40" y="283.36" width="6.30" height="38.04" fill="#f88380" stroke="#1a1a1a" stroke-width="0.9"/>
<line x1="166.40" y1="321.40" x2="244.80" y2="321.40" stroke="#333" stroke-width="1"/>
<line x1="178.50" y1="321.40" x2="178.50" y2="323.20" stroke="#333" stroke-width="1"/>
<text transform="translate(178.50,330.90)" text-anchor="middle" fill="#222" stroke="#222" stroke-width="0.2" style="font-size:8.00px;" >5L1d</text>
<line x1="205.60" y1="321.40" x2="205.60" y2="323.20" stroke="#333" stroke-width="1"/>
<text transform="translate(205.60,330.90)" text-anchor="middle" fill="#222" stroke="#222" stroke-width="0.2" style="font-size:8.00px;" >5L3d</text>
<line x1="232.50" y1="321.40" x2="232.50" y2="323.20" stroke="#333" stroke-width="1"/>
<text transform="translate(232.50,330.90)" text-anchor="middle" fill="#222" stroke="#222" stroke-width="0.2" style="font-size:8.00px;" >W</text>
<text transform="translate(149.70,281.60) rotate(-90)" text-anchor="middle" fill="#222" stroke="#222" stroke-width="0.2" style="font-size:8.60px;" >Relative mRNA level</text>
<text transform="translate(210.00,241.30)" text-anchor="middle" fill="#222" stroke="#222" stroke-width="0.2" style="font-size:8.60px;font-style:italic" >CAT</text>
<polyline points="173.75,262.80 173.75,251.10 183.75,251.10 183.75,255.09" fill="none" stroke="#222" stroke-width="0.8"/>
<text transform="translate(178.75,249.30)" text-anchor="middle" fill="#222" stroke="#222" stroke-width="0.2" style="font-size:7.00px;" >ns</text>
<polyline points="200.65,283.88 200.65,269.00 210.65,269.00 210.65,273.60" fill="none" stroke="#222" stroke-width="0.8"/>
<text transform="translate(205.65,267.20)" text-anchor="middle" fill="#222" stroke="#222" stroke-width="0.2" style="font-size:7.00px;" >ns</text>
<polyline points="228.55,305.47 228.55,274.70 238.55,274.70 238.55,280.28" fill="none" stroke="#222" stroke-width="0.8"/>
<circle cx="229.80" cy="270.70" r="1.15" fill="#111"/>
<circle cx="233.55" cy="270.70" r="1.15" fill="#111"/>
<circle cx="237.30" cy="270.70" r="1.15" fill="#111"/>
<rect x="249.50" y="239.70" width="4.80" height="5.90" fill="#08a0fa" stroke="#1a1a1a" stroke-width="0.8"/>
<text transform="translate(257.30,244.80)" text-anchor="start" fill="#222" stroke="#222" stroke-width="0.2" style="font-size:7.70px;" >WT</text>
<rect x="249.50" y="248.40" width="4.80" height="5.90" fill="#f88380" stroke="#1a1a1a" stroke-width="0.8"/>
<text transform="translate(257.30,253.70)" text-anchor="start" fill="#222" stroke="#222" stroke-width="0.2" style="font-size:7.70px;" >SER</text>
<line x1="303.90" y1="243.80" x2="303.90" y2="321.90" stroke="#333" stroke-width="1"/>
<line x1="301.90" y1="244.30" x2="303.90" y2="244.30" stroke="#333" stroke-width="1"/>
<text transform="translate(301.10,246.90)" text-anchor="end" fill="#222" stroke="#222" stroke-width="0.2" style="font-size:7.30px;" >1.5</text>
<line x1="301.90" y1="270.00" x2="303.90" y2="270.00" stroke="#333" stroke-width="1"/>
<text transform="translate(301.10,272.60)" text-anchor="end" fill="#222" stroke="#222" stroke-width="0.2" style="font-size:7.30px;" >1.0</text>
<line x1="301.90" y1="295.70" x2="303.90" y2="295.70" stroke="#333" stroke-width="1"/>
<text transform="translate(301.10,298.30)" text-anchor="end" fill="#222" stroke="#222" stroke-width="0.2" style="font-size:7.30px;" >0.5</text>
<line x1="301.90" y1="321.40" x2="303.90" y2="321.40" stroke="#333" stroke-width="1"/>
<text transform="translate(301.10,324.00)" text-anchor="end" fill="#222" stroke="#222" stroke-width="0.2" style="font-size:7.30px;" >0.0</text>
<line x1="311.55" y1="260.75" x2="311.55" y2="270.00" stroke="#222" stroke-width="0.9"/>
<line x1="309.55" y1="260.75" x2="313.55" y2="260.75" stroke="#222" stroke-width="1.0"/>
<rect x="308.40" y="270.00" width="6.30" height="51.40" fill="#08a0fa" stroke="#1a1a1a" stroke-width="0.9"/>
<line x1="321.45" y1="262.80" x2="321.45" y2="268.46" stroke="#222" stroke-width="0.9"/>
<line x1="319.45" y1="262.80" x2="323.45" y2="262.80" stroke="#222" stroke-width="1.0"/>
<rect x="318.30" y="268.46" width="6.30" height="52.94" fill="#f88380" stroke="#1a1a1a" stroke-width="0.9"/>
<line x1="338.65" y1="280.28" x2="338.65" y2="285.42" stroke="#222" stroke-width="0.9"/>
<line x1="336.65" y1="280.28" x2="340.65" y2="280.28" stroke="#222" stroke-width="1.0"/>
<rect x="335.50" y="285.42" width="6.30" height="35.98" fill="#08a0fa" stroke="#1a1a1a" stroke-width="0.9"/>
<line x1="348.65" y1="263.83" x2="348.65" y2="266.92" stroke="#222" stroke-width="0.9"/>
<line x1="346.65" y1="263.83" x2="350.65" y2="263.83" stroke="#222" stroke-width="1.0"/>
<rect x="345.50" y="266.92" width="6.30" height="54.48" fill="#f88380" stroke="#1a1a1a" stroke-width="0.9"/>
<line x1="365.55" y1="310.61" x2="365.55" y2="311.12" stroke="#222" stroke-width="0.9"/>
<line x1="363.55" y1="310.61" x2="367.55" y2="310.61" stroke="#222" stroke-width="1.0"/>
<rect x="362.40" y="311.12" width="6.30" height="10.28" fill="#08a0fa" stroke="#1a1a1a" stroke-width="0.9"/>
<line x1="376.05" y1="285.93" x2="376.05" y2="290.05" stroke="#222" stroke-width="0.9"/>
<line x1="374.05" y1="285.93" x2="378.05" y2="285.93" stroke="#222" stroke-width="1.0"/>
<rect x="372.90" y="290.05" width="6.30" height="31.35" fill="#f88380" stroke="#1a1a1a" stroke-width="0.9"/>
<line x1="303.40" y1="321.40" x2="382.60" y2="321.40" stroke="#333" stroke-width="1"/>
<line x1="316.60" y1="321.40" x2="316.60" y2="323.20" stroke="#333" stroke-width="1"/>
<text transform="translate(316.60,330.90)" text-anchor="middle" fill="#222" stroke="#222" stroke-width="0.2" style="font-size:8.00px;" >5L1d</text>
<line x1="343.40" y1="321.40" x2="343.40" y2="323.20" stroke="#333" stroke-width="1"/>
<text transform="translate(343.40,330.90)" text-anchor="middle" fill="#222" stroke="#222" stroke-width="0.2" style="font-size:8.00px;" >5L3d</text>
<line x1="370.60" y1="321.40" x2="370.60" y2="323.20" stroke="#333" stroke-width="1"/>
<text transform="translate(370.60,330.90)" text-anchor="middle" fill="#222" stroke="#222" stroke-width="0.2" style="font-size:8.00px;" >W</text>
<text transform="translate(286.70,281.60) rotate(-90)" text-anchor="middle" fill="#222" stroke="#222" stroke-width="0.2" style="font-size:8.60px;" >Relative mRNA level</text>
<text transform="translate(350.00,241.30)" text-anchor="middle" fill="#222" stroke="#222" stroke-width="0.2" style="font-size:8.60px;font-style:italic" >MnSOD</text>
<polyline points="311.55,260.75 311.55,257.40 321.45,257.40 321.45,262.80" fill="none" stroke="#222" stroke-width="0.8"/>
<text transform="translate(316.50,255.60)" text-anchor="middle" fill="#222" stroke="#222" stroke-width="0.2" style="font-size:7.00px;" >ns</text>
<polyline points="338.65,280.28 338.65,258.10 348.65,258.10 348.65,263.83" fill="none" stroke="#222" stroke-width="0.8"/>
<circle cx="341.77" cy="254.10" r="1.15" fill="#111"/>
<circle cx="345.52" cy="254.10" r="1.15" fill="#111"/>
<polyline points="365.55,310.61 365.55,281.40 376.05,281.40 376.05,285.93" fill="none" stroke="#222" stroke-width="0.8"/>
<circle cx="367.05" cy="277.40" r="1.15" fill="#111"/>
<circle cx="370.80" cy="277.40" r="1.15" fill="#111"/>
<circle cx="374.55" cy="277.40" r="1.15" fill="#111"/>
<rect x="387.70" y="239.70" width="4.80" height="5.90" fill="#08a0fa" stroke="#1a1a1a" stroke-width="0.8"/>
<text transform="translate(395.50,244.80)" text-anchor="start" fill="#222" stroke="#222" stroke-width="0.2" style="font-size:7.70px;" >WT</text>
<rect x="387.70" y="248.40" width="4.80" height="5.90" fill="#f88380" stroke="#1a1a1a" stroke-width="0.8"/>
<text transform="translate(395.50,253.70)" text-anchor="start" fill="#222" stroke="#222" stroke-width="0.2" style="font-size:7.70px;" >SER</text>
<line x1="441.30" y1="243.80" x2="441.30" y2="321.90" stroke="#333" stroke-width="1"/>
<line x1="439.30" y1="244.30" x2="441.30" y2="244.30" stroke="#333" stroke-width="1"/>
<text transform="translate(438.50,246.90)" text-anchor="end" fill="#222" stroke="#222" stroke-width="0.2" style="font-size:7.30px;" >1.5</text>
<line x1="439.30" y1="270.00" x2="441.30" y2="270.00" stroke="#333" stroke-width="1"/>
<text transform="translate(438.50,272.60)" text-anchor="end" fill="#222" stroke="#222" stroke-width="0.2" style="font-size:7.30px;" >1.0</text>
<line x1="439.30" y1="295.70" x2="441.30" y2="295.70" stroke="#333" stroke-width="1"/>
<text transform="translate(438.50,298.30)" text-anchor="end" fill="#222" stroke="#222" stroke-width="0.2" style="font-size:7.30px;" >0.5</text>
<line x1="439.30" y1="321.40" x2="441.30" y2="321.40" stroke="#333" stroke-width="1"/>
<text transform="translate(438.50,324.00)" text-anchor="end" fill="#222" stroke="#222" stroke-width="0.2" style="font-size:7.30px;" >0.0</text>
<line x1="449.55" y1="263.32" x2="449.55" y2="270.00" stroke="#222" stroke-width="0.9"/>
<line x1="447.55" y1="263.32" x2="451.55" y2="263.32" stroke="#222" stroke-width="1.0"/>
<rect x="446.40" y="270.00" width="6.30" height="51.40" fill="#08a0fa" stroke="#1a1a1a" stroke-width="0.9"/>
<line x1="459.65" y1="275.14" x2="459.65" y2="277.20" stroke="#222" stroke-width="0.9"/>
<line x1="457.65" y1="275.14" x2="461.65" y2="275.14" stroke="#222" stroke-width="1.0"/>
<rect x="456.50" y="277.20" width="6.30" height="44.20" fill="#f88380" stroke="#1a1a1a" stroke-width="0.9"/>
<line x1="476.85" y1="272.06" x2="476.85" y2="278.22" stroke="#222" stroke-width="0.9"/>
<line x1="474.85" y1="272.06" x2="478.85" y2="272.06" stroke="#222" stroke-width="1.0"/>
<rect x="473.70" y="278.22" width="6.30" height="43.18" fill="#08a0fa" stroke="#1a1a1a" stroke-width="0.9"/>
<line x1="486.95" y1="270.51" x2="486.95" y2="270.51" stroke="#222" stroke-width="0.9"/>
<line x1="484.95" y1="270.51" x2="488.95" y2="270.51" stroke="#222" stroke-width="1.0"/>
<rect x="483.80" y="270.51" width="6.30" height="50.89" fill="#f88380" stroke="#1a1a1a" stroke-width="0.9"/>
<line x1="503.85" y1="293.64" x2="503.85" y2="295.19" stroke="#222" stroke-width="0.9"/>
<line x1="501.85" y1="293.64" x2="505.85" y2="293.64" stroke="#222" stroke-width="1.0"/>
<rect x="500.70" y="295.19" width="6.30" height="26.21" fill="#08a0fa" stroke="#1a1a1a" stroke-width="0.9"/>
<line x1="513.95" y1="285.93" x2="513.95" y2="289.53" stroke="#222" stroke-width="0.9"/>
<line x1="511.95" y1="285.93" x2="515.95" y2="285.93" stroke="#222" stroke-width="1.0"/>
<rect x="510.80" y="289.53" width="6.30" height="31.87" fill="#f88380" stroke="#1a1a1a" stroke-width="0.9"/>
<line x1="440.80" y1="321.40" x2="519.70" y2="321.40" stroke="#333" stroke-width="1"/>
<line x1="454.40" y1="321.40" x2="454.40" y2="323.20" stroke="#333" stroke-width="1"/>
<text transform="translate(454.40,330.90)" text-anchor="middle" fill="#222" stroke="#222" stroke-width="0.2" style="font-size:8.00px;" >5L1d</text>
<line x1="481.40" y1="321.40" x2="481.40" y2="323.20" stroke="#333" stroke-width="1"/>
<text transform="translate(481.40,330.90)" text-anchor="middle" fill="#222" stroke="#222" stroke-width="0.2" style="font-size:8.00px;" >5L3d</text>
<line x1="508.50" y1="321.40" x2="508.50" y2="323.20" stroke="#333" stroke-width="1"/>
<text transform="translate(508.50,330.90)" text-anchor="middle" fill="#222" stroke="#222" stroke-width="0.2" style="font-size:8.00px;" >W</text>
<text transform="translate(424.10,281.60) rotate(-90)" text-anchor="middle" fill="#222" stroke="#222" stroke-width="0.2" style="font-size:8.60px;" >Relative mRNA level</text>
<text transform="translate(486.80,241.30)" text-anchor="middle" fill="#222" stroke="#222" stroke-width="0.2" style="font-size:8.60px;font-style:italic" >Cu/ZnSOD</text>
<polyline points="449.55,263.32 449.55,259.20 459.65,259.20 459.65,275.14" fill="none" stroke="#222" stroke-width="0.8"/>
<text transform="translate(454.60,257.40)" text-anchor="middle" fill="#222" stroke="#222" stroke-width="0.2" style="font-size:7.00px;" >ns</text>
<polyline points="476.85,272.06 476.85,266.20 486.95,266.20 486.95,270.51" fill="none" stroke="#222" stroke-width="0.8"/>
<text transform="translate(481.90,264.40)" text-anchor="middle" fill="#222" stroke="#222" stroke-width="0.2" style="font-size:7.00px;" >ns</text>
<polyline points="503.85,293.64 503.85,280.70 513.95,280.70 513.95,285.93" fill="none" stroke="#222" stroke-width="0.8"/>
<text transform="translate(508.90,278.90)" text-anchor="middle" fill="#222" stroke="#222" stroke-width="0.2" style="font-size:7.00px;" >ns</text>
<rect x="525.00" y="239.70" width="4.80" height="5.90" fill="#08a0fa" stroke="#1a1a1a" stroke-width="0.8"/>
<text transform="translate(532.80,244.80)" text-anchor="start" fill="#222" stroke="#222" stroke-width="0.2" style="font-size:7.70px;" >WT</text>
<rect x="525.00" y="248.40" width="4.80" height="5.90" fill="#f88380" stroke="#1a1a1a" stroke-width="0.8"/>
<text transform="translate(532.80,253.70)" text-anchor="start" fill="#222" stroke="#222" stroke-width="0.2" style="font-size:7.70px;" >SER</text>
</svg>
</body></html>
